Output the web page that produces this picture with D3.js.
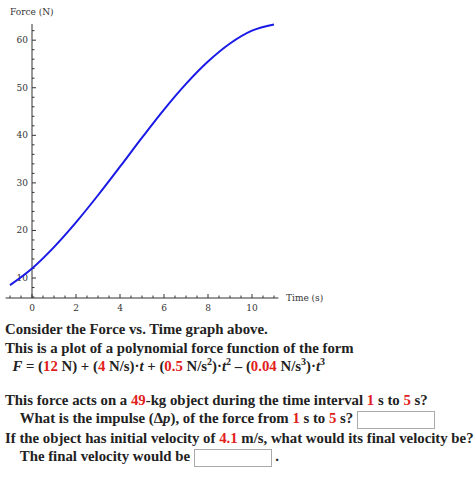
<!DOCTYPE html>
<head>
  <meta charset="utf-8">
  <style>
    body { margin: 0; background: #fff; }
    svg text { font-family: "DejaVu Serif", serif; }
    .q { position: absolute; left: 5px; top: 320px; font: bold 14.8px "Liberation Serif", serif; color: #222; line-height: 18.5px; }
    .r { color: #e0201a; }
    sup { font-size: 10px; line-height: 0; }
    .in { display: inline-block; width: 76px; height: 16px; border: 1px solid #aaa; vertical-align: middle; }
  </style>
</head>
<body>
<script src="https://d3js.org/d3.v7.min.js"></script>
<div class="q">
  Consider the Force vs. Time graph above.<br>
  This is a plot of a polynomial force function of the form<br>
  &nbsp;&nbsp;<i>F</i> = (<span class="r">12</span> N) + (<span class="r">4</span> N/s)·<i>t</i> + (<span class="r">0.5</span> N/s<sup>2</sup>)·<i>t</i><sup>2</sup> – (<span class="r">0.04</span> N/s<sup>3</sup>)·<i>t</i><sup>3</sup><br>
  <div style="height:15px"></div>
  This force acts on a <span class="r">49</span>-kg object during the time interval <span class="r">1</span> s to <span class="r">5</span> s?<br>
  &nbsp;&nbsp;&nbsp;&nbsp;What is the impulse (Δ<i>p</i>), of the force from <span class="r">1</span> s to <span class="r">5</span> s? <span class="in"></span><br>
  If the object has initial velocity of <span class="r">4.1</span> m/s, what would its final velocity be?<br>
  &nbsp;&nbsp;&nbsp;&nbsp;The final velocity would be <span class="in"></span> .
</div>
<script>
  // time (s) and force (N)
  var times  = [-1, 0, 1, 2, 3, 4, 5, 6, 7, 8, 9, 10, 11];
  var forces = [8.5, 12, 16.5, 21.7, 27.4, 33.4, 39.5, 45.4, 50.8, 55.5, 59.3, 62, 63.3];
  var xTicks = [0, 2, 4, 6, 8, 10];
  var yTicks = [10, 20, 30, 40, 50, 60];

  var svg = d3.select("body").append("svg")
      .attr("width", 474).attr("height", 320)
      .style("position", "absolute").style("left", 0).style("top", 0);

  var x = d3.scaleLinear().domain([-1.2, 11.2]).range([5.6, 278.4]);
  var y = d3.scaleLinear().domain([5.8, 63.4]).range([298, 24]);

  // x axis: ticks drawn upward
  var gx = svg.append("g").attr("transform", "translate(0," + y(5.8) + ")");
  gx.append("line").attr("x1", x(-1.2)).attr("x2", x(11.2)).attr("stroke", "#333");
  gx.selectAll("line.minor").data(d3.range(-1, 11.01, 0.5)).enter().append("line")
      .attr("x1", d => x(d)).attr("x2", d => x(d))
      .attr("y1", 0).attr("y2", d => xTicks.indexOf(d) >= 0 ? -4 : -2.5)
      .attr("stroke", "#333");
  gx.selectAll("text").data(xTicks).enter().append("text")
      .attr("x", d => x(d)).attr("y", 13).attr("text-anchor", "middle")
      .attr("font-size", 9).attr("fill", "#333").text(d => d);
  gx.append("text").attr("x", 286).attr("y", 3).attr("font-size", 9).attr("fill", "#333").text("Time (s)");

  // y axis at t = 0, ticks drawn to the right
  var gy = svg.append("g").attr("transform", "translate(" + x(0) + ",0)");
  gy.append("line").attr("y1", y(5.8)).attr("y2", y(63.4)).attr("stroke", "#333");
  gy.selectAll("line.minor").data(d3.range(6, 63, 2)).enter().append("line")
      .attr("y1", d => y(d)).attr("y2", d => y(d))
      .attr("x1", 0).attr("x2", d => d % 10 === 0 ? 4 : 2.5)
      .attr("stroke", "#333");
  gy.selectAll("text").data(yTicks).enter().append("text")
      .attr("x", -4).attr("y", d => y(d) + 3).attr("text-anchor", "end")
      .attr("font-size", 9).attr("fill", "#333").text(d => d);
  svg.append("text").attr("x", 10).attr("y", 15).attr("font-size", 9).attr("fill", "#333").text("Force (N)");

  var line = d3.line().x((d, i) => x(times[i])).y(d => y(d)).curve(d3.curveMonotoneX);
  svg.append("path").attr("d", line(forces))
      .attr("fill", "none").attr("stroke", "#1a1ae6").attr("stroke-width", 2);
</script>
</body>
</html>
